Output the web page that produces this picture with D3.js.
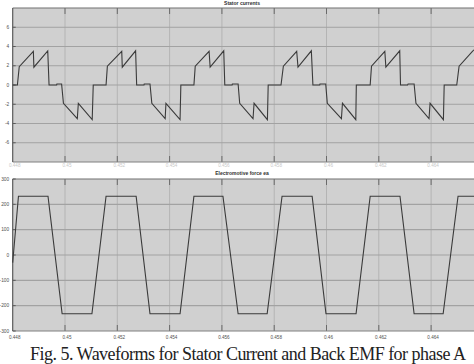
<!DOCTYPE html>
<html><head><meta charset="utf-8">
<script src="https://cdn.jsdelivr.net/npm/d3@7"></script>
<style>html,body{margin:0;padding:0;background:#fff;overflow:hidden}</style>
</head><body>
<svg id="c" width="474" height="364"></svg>
<script>
// ---- data ----
const xTicks = [0.448, 0.450, 0.452, 0.454, 0.456, 0.458, 0.460, 0.462, 0.464];
const xTickLabels = ["0.448","0.45","0.452","0.454","0.456","0.458","0.46","0.462","0.464"];
const currentTicks = [6, 4, 2, 0, -2, -4, -6];
const emfTicks = [300, 200, 100, 0, -100, -200, -300];
const titleTop = "Stator currents";
const titleBottom = "Electromotive force ea";
const caption = "Fig. 5.  Waveforms for Stator Current and Back EMF for phase A";

const currentTime = [0.44800,0.44818,0.44825,0.44879,0.44881,0.44934,0.44939,0.44968,0.44969,0.44987,
  0.44994,0.45047,0.45051,0.45104,0.45108,0.45157,0.45162,0.45217,0.45219,0.45270,
  0.45274,0.45302,0.45303,0.45325,0.45332,0.45383,0.45386,0.45440,0.45443,0.45493,
  0.45498,0.45551,0.45555,0.45607,0.45611,0.45639,0.45640,0.45662,0.45668,0.45719,
  0.45723,0.45774,0.45777,0.45826,0.45835,0.45886,0.45891,0.45942,0.45948,0.45974,
  0.45975,0.45997,0.46003,0.46057,0.46061,0.46112,0.46114,0.46167,0.46172,0.46223,
  0.46227,0.46280,0.46283,0.46310,0.46312,0.46335,0.46342,0.46392,0.46396,0.46447,
  0.46450,0.46498,0.46507,0.46558,0.46564];
const currentValue = [0,0,1.9,3.5,1.85,3.55,0,0,0.1,0.1,
  -1.9,-3.5,-1.9,-3.6,0,0,1.95,3.5,1.85,3.55,
  0,0,0.1,0.1,-1.9,-3.5,-1.9,-3.6,0,0,
  1.95,3.5,1.85,3.55,0,0,0.1,0.1,-1.9,-3.5,
  -1.9,-3.6,0,0,1.95,3.5,1.85,3.55,0,0,
  0.1,0.1,-1.9,-3.5,-1.9,-3.6,0,0,1.95,3.5,
  1.85,3.55,0,0,0.1,0.1,-1.9,-3.5,-1.9,-3.6,
  0,0,1.95,3.5,3.65];

const emfTime = [0.44800,0.44822,0.44935,0.44989,0.45103,0.45157,0.45272,0.45325,0.45440,0.45493,
  0.45604,0.45662,0.45773,0.45830,0.45945,0.45998,0.46113,0.46167,0.46281,0.46335,
  0.46446,0.46503,0.46564];
const emfValue = [-30,232,232,-232,-232,232,232,-232,-232,232,
  232,-232,-232,232,232,-232,-232,232,232,-232,
  -232,232,232];

// ---- chart ----
const svg = d3.select("#c");
const L = 12.7, R = 474;
const x = d3.scaleLinear().domain([0.448, 0.46564]).range([L, R]);

function panel(top, bottom, yDomain, gridVals, labelVals, times, vals, title, titleY, showXLabels, xLabelY) {
  const y = d3.scaleLinear().domain(yDomain).range([bottom, top]);
  const g = svg.append("g");
  g.append("rect").attr("x", L).attr("y", top).attr("width", R - L).attr("height", bottom - top)
    .attr("fill", "#d0d0d0");
  g.selectAll(".vg").data(xTicks.slice(1)).enter().append("line")
    .attr("x1", d => x(d)).attr("x2", d => x(d)).attr("y1", top).attr("y2", bottom)
    .attr("stroke", "#b4b4b4").attr("stroke-width", 1);
  g.selectAll(".hg").data(gridVals).enter().append("line")
    .attr("x1", L).attr("x2", R).attr("y1", d => y(d)).attr("y2", d => y(d))
    .attr("stroke", "#a2a2a2").attr("stroke-width", 1.2);
  g.selectAll(".tt").data(xTicks.slice(1)).enter().append("line")
    .attr("x1", d => x(d)).attr("x2", d => x(d)).attr("y1", top).attr("y2", top + 6)
    .attr("stroke", "#6a6a6a").attr("stroke-width", 1);
  g.selectAll(".tb").data(xTicks.slice(1)).enter().append("line")
    .attr("x1", d => x(d)).attr("x2", d => x(d)).attr("y1", bottom - 6).attr("y2", bottom)
    .attr("stroke", "#6a6a6a").attr("stroke-width", 1);
  g.append("line").attr("x1", L).attr("x2", R).attr("y1", top).attr("y2", top)
    .attr("stroke", "#707070").attr("stroke-width", 1.2);
  g.append("line").attr("x1", L).attr("x2", R).attr("y1", bottom).attr("y2", bottom)
    .attr("stroke", "#808080").attr("stroke-width", 1.2);
  g.append("line").attr("x1", L).attr("x2", L).attr("y1", top).attr("y2", bottom)
    .attr("stroke", "#5a5a5a").attr("stroke-width", 1.2);
  g.selectAll(".lt").data(labelVals).enter().append("line")
    .attr("x1", L).attr("x2", L + 3).attr("y1", d => y(d)).attr("y2", d => y(d))
    .attr("stroke", "#5a5a5a");
  g.selectAll(".ll").data(labelVals).enter().append("text")
    .attr("x", L - 3.5).attr("y", d => y(d) + 1.6).attr("text-anchor", "end")
    .attr("font-family", "Liberation Sans, Arial, sans-serif").attr("font-size", 4.8)
    .attr("fill", "#505050").text(d => d);
  const pts = times.map((t, i) => [t, vals[i]]);
  g.append("path").datum(pts)
    .attr("d", d3.line().x(d => x(d[0])).y(d => y(d[1])))
    .attr("fill", "none").attr("stroke", "#3a3a3a").attr("stroke-width", 1.1);
  svg.append("text").attr("x", 242).attr("y", titleY).attr("text-anchor", "middle")
    .attr("font-family", "Liberation Sans, Arial, sans-serif").attr("font-size", 5)
    .attr("font-weight", "bold").attr("fill", "#303030").text(title);
  svg.selectAll(null).data(xTicks).enter().append("text")
    .attr("x", d => x(d) + 2).attr("y", xLabelY).attr("text-anchor", "middle")
    .attr("font-family", "Liberation Sans, Arial, sans-serif").attr("font-size", 4.6)
    .attr("fill", showXLabels ? "#505050" : "#c8c8c8").text((d, i) => xTickLabels[i]);
}

panel(8, 162, [-8, 8], [6, 4, 2, 0, -2, -4, -6], currentTicks, currentTime, currentValue, titleTop, 5, false, 167);
panel(179, 331, [-300, 300], [200, 100, 0, -100, -200], emfTicks, emfTime, emfValue, titleBottom, 175, true, 338.5);

svg.append("text").attr("x", 30).attr("y", 359.5)
  .attr("font-family", "Liberation Serif, Times New Roman, serif").attr("font-size", 18)
  .attr("fill", "#222").attr("textLength", 436).attr("lengthAdjust", "spacing")
  .text(caption);
</script>
</body></html>
